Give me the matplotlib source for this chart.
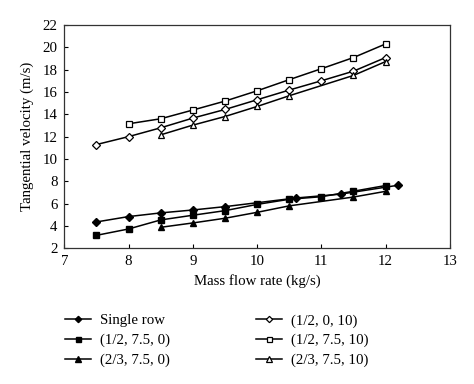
import matplotlib
matplotlib.use("Agg")
import matplotlib.pyplot as plt

plt.rcParams['font.family'] = ['Liberation Serif', 'DejaVu Serif']

# Data
x_single = [7.5, 8.0, 8.5, 9.0, 9.5, 10.6, 11.3, 12.2]
y_single = [4.36, 4.84, 5.17, 5.43, 5.73, 6.50, 6.85, 7.65]

x_h75_0 = [7.5, 8.0, 8.5, 9.0, 9.5, 10.0, 10.5, 11.0, 11.5, 12.0]
y_h75_0 = [3.16, 3.73, 4.54, 4.96, 5.37, 5.93, 6.39, 6.62, 7.11, 7.62]

x_t75_0 = [8.5, 9.0, 9.5, 10.0, 10.5, 11.5, 12.0]
y_t75_0 = [3.88, 4.27, 4.69, 5.22, 5.80, 6.59, 7.10]

x_h0_10 = [7.5, 8.0, 8.5, 9.0, 9.5, 10.0, 10.5, 11.0, 11.5, 12.0]
y_h0_10 = [11.29, 12.0, 12.79, 13.66, 14.43, 15.3, 16.17, 17.0, 17.86, 19.08]

x_h75_10 = [8.0, 8.5, 9.0, 9.5, 10.0, 10.5, 11.0, 11.5, 12.0]
y_h75_10 = [13.15, 13.6, 14.38, 15.18, 16.1, 17.1, 18.08, 19.08, 20.3]

x_t75_10 = [8.5, 9.0, 9.5, 10.0, 10.5, 11.5, 12.0]
y_t75_10 = [12.16, 13.03, 13.8, 14.7, 15.66, 17.48, 18.72]

labels = ["Single row", "(1/2, 7.5, 0)", "(2/3, 7.5, 0)",
          "(1/2, 0, 10)", "(1/2, 7.5, 10)", "(2/3, 7.5, 10)"]

FS = 10.7

fig = plt.figure(figsize=(4.74, 3.84), dpi=100)
ax = fig.add_axes([0.1357, 0.3534, 0.949 - 0.1357, 0.935 - 0.3534])

lw = 1.1
styles = [
    dict(marker='D', ms=4, mfc='black', mec='black'),
    dict(marker='s', ms=4.5, mfc='black', mec='black'),
    dict(marker='^', ms=5, mfc='black', mec='black'),
    dict(marker='D', ms=4, mfc='white', mec='black', mew=0.9),
    dict(marker='s', ms=4.5, mfc='white', mec='black', mew=0.9),
    dict(marker='^', ms=5, mfc='white', mec='black', mew=0.9),
]
series = [(x_single, y_single), (x_h75_0, y_h75_0), (x_t75_0, y_t75_0),
          (x_h0_10, y_h0_10), (x_h75_10, y_h75_10), (x_t75_10, y_t75_10)]

handles = []
for (xs, ys), st, lab in zip(series, styles, labels):
    h, = ax.plot(xs, ys, color='black', lw=lw, label=lab, **st)
    handles.append(h)

ax.set_xlim(7, 13)
ax.set_ylim(2, 22)
ax.set_xticks(range(7, 14))
ax.set_yticks(range(2, 23, 2))
ax.tick_params(direction='in', length=3, labelsize=FS, top=False, right=False,
               width=0.8, pad=5)
for s in ax.spines.values():
    s.set_linewidth(0.9)
    s.set_color('#333333')
ax.set_xlabel("Mass flow rate (kg/s)", fontsize=FS, labelpad=4)
ax.set_ylabel("Tangential velocity (m/s)", fontsize=FS, labelpad=6)

leg_kw = dict(frameon=False, fontsize=FS, borderaxespad=0, borderpad=0,
              handlelength=1.75, handletextpad=0.6, labelspacing=0.42,
              markerscale=0.8, loc='upper left')
fig.legend(handles[:3], labels[:3], bbox_to_anchor=(65 / 474, 1 - 314 / 384), **leg_kw)
fig.legend(handles[3:], labels[3:], bbox_to_anchor=(256 / 474, 1 - 314 / 384), **leg_kw)

fig.savefig("out.png", dpi=100)
